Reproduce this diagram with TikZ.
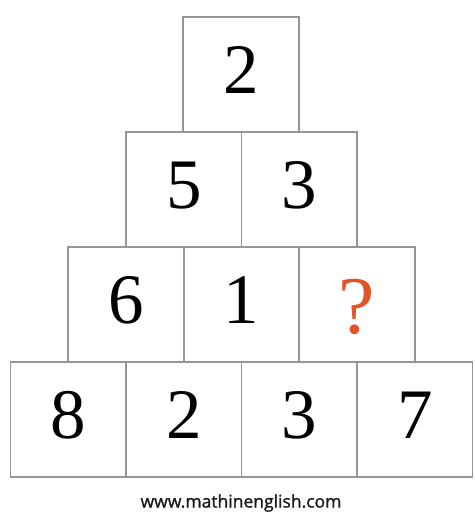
\documentclass[tikz,border=0pt]{standalone}
\usepackage{fontspec}
\setmainfont{Liberation Serif}
\newfontfamily\webfont[FakeBold=1.2]{Open Sans}
\definecolor{boxgray}{RGB}{150,150,150}
\definecolor{qorange}{RGB}{228,82,40}
\begin{document}
\begin{tikzpicture}[x=1pt,y=-1pt,
  cell/.style={draw=boxgray,line width=1.7pt,minimum width=115.5pt,minimum height=115pt,
    inner sep=0pt,anchor=center,font=\fontsize{71}{71}\selectfont,text height=47pt,text depth=9pt}]
\useasboundingbox (0,0) rectangle (474,526);
\fill[white] (0,0) rectangle (474,526);
% bottom row
\node[cell] (d1) at (68.25,419.5) {8};
\node[cell] (d2) at (183.75,419.5) {2};
\node[cell] (d3) at (299.25,419.5) {3};
\node[cell] (d4) at (414.75,419.5) {7};
% third row
\node[cell] (c1) at (126,304.5) {6};
\node[cell] (c2) at (241.5,304.5) {1};
\node[cell,text=qorange,font=\fontsize{82}{82}\selectfont,text height=57pt,text depth=0pt] (c3) at (357,304.5) {?};
% second row
\node[cell] (b1) at (183.75,189.5) {5};
\node[cell] (b2) at (299.25,189.5) {3};
% top
\node[cell] (a1) at (241,74.5) {2};
\node[font=\webfont\fontsize{17.5}{17.5}\selectfont,text=black!90] (url) at (241,503) {www.mathinenglish.com};
\end{tikzpicture}
\end{document}
